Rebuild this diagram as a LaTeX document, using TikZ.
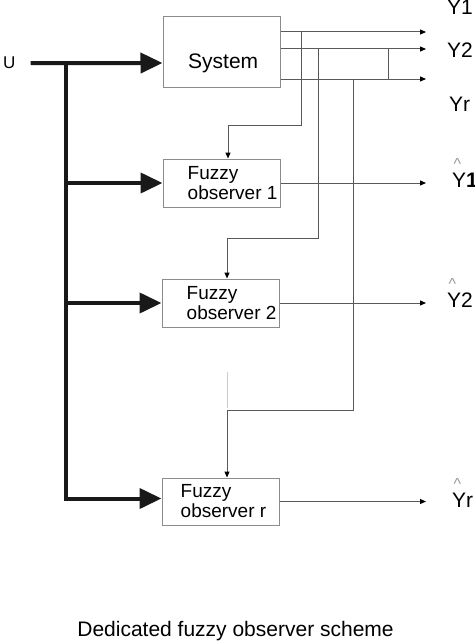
\documentclass[tikz,border=0pt]{standalone}
\usepackage{fontspec}
\setmainfont{Liberation Sans}
\usetikzlibrary{arrows.meta,positioning}
\newcommand{\yhat}{\makebox[0pt][l]{\hspace{1.5pt}\raisebox{18pt}{\color{black!40}\fontsize{16}{16}\selectfont\textasciicircum}}}

\begin{document}
\begin{tikzpicture}[x=1pt,y=-1pt,
  box/.style={draw=black!45,line width=1pt,minimum width=117pt},
  sysbox/.style={box,minimum height=70pt},
  obsbox/.style={box,minimum height=48pt},
  txt/.style={inner sep=0pt,anchor=base west,font=\fontsize{21}{24}\selectfont},
  obstxt/.style={inner sep=0pt,align=left,font=\fontsize{19}{20}\selectfont},
  bus/.style={draw=black!90,line width=4pt,-{Triangle[length=22pt,width=20pt]}},
  tap/.style={draw=black!65,line width=1pt,-{Triangle[length=6pt,width=5pt,color=black]}},
  wire/.style={draw=black!65,line width=1pt}]
  \useasboundingbox (0,0) rectangle (474,642);

  \node[sysbox] (sys) at (221.5,52) {};
  \node[obsbox] (obs1) at (221.5,183) {};
  \node[obsbox] (obs2) at (220.5,303) {};
  \node[obsbox,minimum height=47pt] (obsr) at (220.5,501.5) {};

  \node[txt] (systxt) at (188,69) {System};
  \node[obstxt,right=25pt of obs1.west] (obs1txt) {Fuzzy\\observer 1};
  \node[obstxt,right=25pt of obs2.west] (obs2txt) {Fuzzy\\observer 2};
  \node[obstxt,right=19pt of obsr.west] (obsrtxt) {Fuzzy\\observer r};

  \node[txt,font=\fontsize{17}{20}\selectfont] (u) at (3,69) {U};
  \node[txt] (y1) at (447,15) {Y1};
  \node[txt] (y2) at (447,57) {Y2};
  \node[txt] (yr) at (449,111) {Yr};
  \node[txt] (yh1) at (452,187) {\yhat Y\textbf{1}};
  \node[txt] (yh2) at (447,307) {\yhat Y2};
  \node[txt] (yhr) at (452,507) {\yhat Yr};
  \node[txt,anchor=base] (title) at (235.5,636) {Dedicated fuzzy observer scheme};

  \coordinate (split) at (66,63);
  \coordinate (e1) at (426,32);
  \coordinate (e2) at (426,49);
  \coordinate (e3) at (426,79);
  \coordinate (j) at (388,49);

  \draw[bus] ([xshift=15pt]u.east) -- (sys.west |- split);
  \draw[bus] (split) |- ([yshift=3pt]obsr.west);
  \draw[bus] (split |- obs1.west) -- (obs1.west);
  \draw[bus] (split |- obs2.west) -- (obs2.west);

  \draw[tap] (sys.east |- e1) -- (e1);
  \draw[tap] (sys.east |- e2) -- (e2);
  \draw[tap] (sys.east |- e3) -- (e3);
  \draw[wire] (j) -- (j |- e3);

  \draw[tap] (e1 -| 301,0) |- (228,125) -- (228,0 |- obs1.north);
  \draw[tap] (e2 -| 318,0) |- (227,238) -- (227,0 |- obs2.north);
  \draw[tap] (e3 -| 353,0) |- (227,410) -- (227,0 |- obsr.north);
  \draw[draw=black!20,line width=1pt] (227,372) -- (227,408);

  \draw[tap] (obs1.east) -- (obs1.east -| e1);
  \draw[tap] (obs2.east) -- (obs2.east -| e1);
  \draw[tap] (obsr.east) -- (obsr.east -| e1);
\end{tikzpicture}
\end{document}
